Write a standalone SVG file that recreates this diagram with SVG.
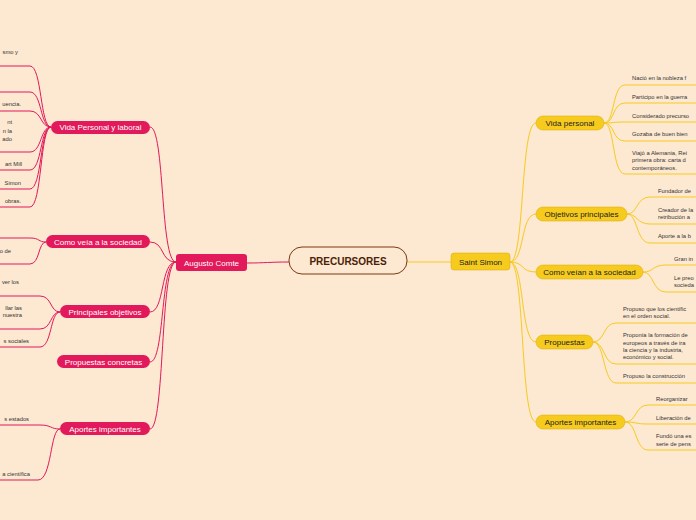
<svg xmlns="http://www.w3.org/2000/svg" width="696" height="520" viewBox="0 0 696 520">
<style>
.p{fill:#e2195b}.y{fill:#f6cb1e;stroke:#d9a800;stroke-width:.5}
.pl{fill:none;stroke:#e2195b;stroke-width:1}.yl{fill:none;stroke:#f6cb1e;stroke-width:1}
.tw{font:8px "Liberation Sans",sans-serif;fill:#fff}
.tk{font:8px "Liberation Sans",sans-serif;fill:#222}
.l{font:5.8px "Liberation Sans",sans-serif;fill:#333}
</style>
<rect width="696" height="520" fill="#fde8d1"/>
<g id="connectors">
<path class="pl" d="M289 262 C270 262 265 263 247 263"/>
<path class="yl" d="M407 262 C430 262 430 262 451 262"/>
<path class="pl" d="M176 262 C160 262 165 127 150 127 M176 262 C160 262 165 242 150 242 M176 262 C160 262 165 312 150 312 M176 262 C160 262 165 362 150 362 M176 262 C160 262 165 429 150 429"/>
<path class="yl" d="M510 262 C525 262 520 123 536 123 M510 262 C525 262 520 214 536 214 M510 262 C525 262 520 272 536 272 M510 262 C525 262 520 342 536 342 M510 262 C525 262 520 422 536 422"/>
<g class="pl">
<path d="M51 127 C40 127 42 66 30 66 H0 M51 127 C40 127 42 92 30 92 H0 M51 127 C40 127 42 111 30 111 H0 M51 127 C40 127 42 152 30 152 H0 M51 127 C40 127 42 170 30 170 H0 M51 127 C40 127 42 189 30 189 H0 M51 127 C40 127 42 207 30 207 H0"/>
<path d="M46 242 C38 242 40 238 30 238 H0 M46 242 C38 242 40 264 30 264 H0"/>
<path d="M60 312 C50 312 52 296 40 296 H0 M60 312 C50 312 52 329 40 329 H0 M60 312 C50 312 52 347 40 347 H0"/>
<path d="M60 429 C50 429 52 425 40 425 H0 M60 429 C50 429 52 480 38 480 H0"/>
</g>
<g class="yl">
<path d="M604 123 C615 123 612 85 625 85 H696 M604 123 C615 123 612 103 625 103 H696 M604 123 C615 123 612 122 625 122 H696 M604 123 C615 123 612 141 625 141 H696 M604 123 C615 123 612 174 625 174 H696"/>
<path d="M627 214 C638 214 636 197 650 197 H696 M627 214 C638 214 636 224 650 224 H696 M627 214 C638 214 636 243 650 243 H696"/>
<path d="M643 272 C654 272 652 265 666 265 H696 M643 272 C654 272 652 292 666 292 H696"/>
<path d="M593 342 C605 342 603 323 616 323 H696 M593 342 C605 342 603 364 616 364 H696 M593 342 C605 342 603 383 616 383 H696"/>
<path d="M625 422 C637 422 635 405 648 405 H696 M625 422 C637 422 635 424 648 424 H696 M625 422 C637 422 635 450 648 450 H696"/>
</g>
</g>
<g id="center"><rect x="289" y="247" width="118" height="27" rx="13" fill="#fde8d1" stroke="#7a3a12" stroke-width="1"/><text x="348" y="264.5" text-anchor="middle" style="font:bold 10px 'Liberation Sans',sans-serif;fill:#4a2208">PRECURSORES</text></g>
<g id="comte"><rect class="p" x="176" y="254" width="71" height="17" rx="3"/><text class="tw" x="211.5" y="265.5" text-anchor="middle">Augusto Comte</text></g>
<g id="simon"><rect class="y" x="451" y="253" width="59" height="17" rx="3"/><text class="tk" x="480.5" y="264.5" text-anchor="middle">Saint Simon</text></g>
<g id="l1"><rect class="p" x="51" y="121" width="99" height="13" rx="6.5"/><text class="tw" x="100.5" y="130" text-anchor="middle">Vida Personal y laboral</text></g>
<g id="l2"><rect class="p" x="46" y="235" width="104" height="13" rx="6.5"/><text class="tw" x="98" y="244.5" text-anchor="middle">Como veía a la sociedad</text></g>
<g id="l3"><rect class="p" x="60" y="305" width="90" height="13" rx="6.5"/><text class="tw" x="105" y="314.5" text-anchor="middle">Principales objetivos</text></g>
<g id="l4"><rect class="p" x="57" y="355" width="93" height="13" rx="6.5"/><text class="tw" x="103.5" y="364.5" text-anchor="middle">Propuestas concretas</text></g>
<g id="l5"><rect class="p" x="60" y="422" width="90" height="13" rx="6.5"/><text class="tw" x="105" y="431.5" text-anchor="middle">Aportes importantes</text></g>
<g id="r1"><rect class="y" x="536" y="116" width="68" height="14" rx="7"/><text class="tk" x="570" y="126" text-anchor="middle">Vida personal</text></g>
<g id="r2"><rect class="y" x="536" y="207" width="91" height="14" rx="7"/><text class="tk" x="581.5" y="217" text-anchor="middle">Objetivos principales</text></g>
<g id="r3"><rect class="y" x="536" y="265" width="107" height="14" rx="7"/><text class="tk" x="589.5" y="275" text-anchor="middle">Como veían a la sociedad</text></g>
<g id="r4"><rect class="y" x="536" y="335" width="57" height="14" rx="7"/><text class="tk" x="564.5" y="345" text-anchor="middle">Propuestas</text></g>
<g id="r5"><rect class="y" x="536" y="415" width="89" height="14" rx="7"/><text class="tk" x="580.5" y="425" text-anchor="middle">Aportes importantes</text></g>
<g id="leaves" class="l">
<text x="18" y="54" class="l" text-anchor="end">smo y</text>
<text x="21" y="106" class="l" text-anchor="end">uencia.</text>
<text x="12" y="124" class="l" text-anchor="end">nt</text>
<text x="12" y="133" class="l" text-anchor="end">n la</text>
<text x="12" y="141" class="l" text-anchor="end">ado</text>
<text x="22" y="166" class="l" text-anchor="end">art Mill</text>
<text x="21" y="185" class="l" text-anchor="end">Simon</text>
<text x="21" y="203" class="l" text-anchor="end">obras.</text>
<text x="11" y="253" class="l" text-anchor="end">o de</text>
<text x="19" y="284" class="l" text-anchor="end">ver los</text>
<text x="22" y="310" class="l" text-anchor="end">llar las</text>
<text x="22" y="317" class="l" text-anchor="end">nuestra</text>
<text x="29" y="343" class="l" text-anchor="end">s sociales</text>
<text x="29" y="421" class="l" text-anchor="end">s estados</text>
<text x="30" y="476" class="l" text-anchor="end">a científica</text>
<text x="632" y="80">Nació en la nobleza f</text>
<text x="632" y="99">Participo en la guerra</text>
<text x="632" y="118">Considerado precurso</text>
<text x="632" y="136">Gozaba de buen bien</text>
<text x="632" y="155">Viajó a Alemania, Rei</text>
<text x="632" y="162">primera obra: carta d</text>
<text x="632" y="170">contemporáneos.</text>
<text x="658" y="193">Fundador de</text>
<text x="658" y="212">Creador de la</text>
<text x="658" y="219">retribución  a</text>
<text x="658" y="238">Aporte a la b</text>
<text x="674" y="261">Gran in</text>
<text x="674" y="280">Le preo</text>
<text x="674" y="287">socieda</text>
<text x="623" y="311">Propuso que los científic</text>
<text x="623" y="318">en el orden social.</text>
<text x="623" y="337">Proponía la formación de</text>
<text x="623" y="345">europeos a través de ira</text>
<text x="623" y="352">la ciencia y la industria,</text>
<text x="623" y="359">económico y social.</text>
<text x="623" y="378">Propuso la construcción</text>
<text x="656" y="401">Reorganizar</text>
<text x="656" y="420">Liberación de</text>
<text x="656" y="438">Fundó una es</text>
<text x="656" y="446">serie de pens</text>
</g>
</svg>
